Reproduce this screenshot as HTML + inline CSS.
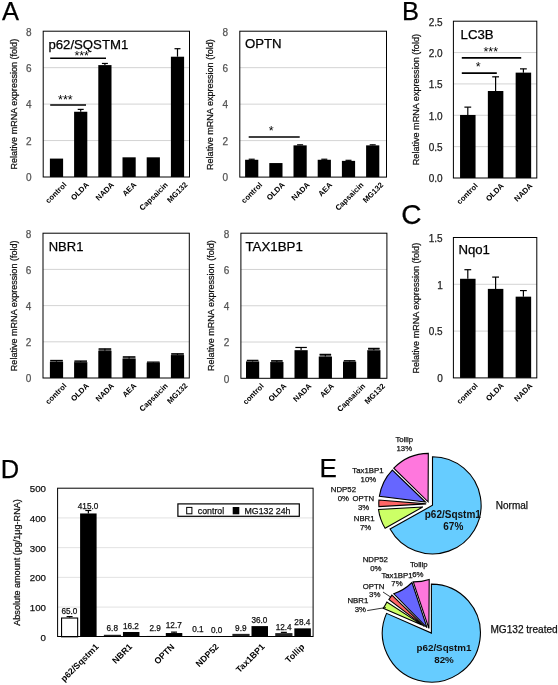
<!DOCTYPE html>
<html><head><meta charset="utf-8"><title>Figure</title>
<style>html,body{margin:0;padding:0;background:#fff}svg{display:block}</style></head>
<body>
<svg width="558" height="685" viewBox="0 0 558 685" font-family='&quot;Liberation Sans&quot;, Arial, Helvetica, sans-serif'>
<rect width="558" height="685" fill="#fff"/>
<text x="1.90" y="20.30" font-size="25.5" text-anchor="start" fill="#000" stroke="#000" stroke-width="0.25">A</text>
<text x="402.00" y="20.30" font-size="25.5" text-anchor="start" fill="#000" stroke="#000" stroke-width="0.25">B</text>
<text x="401.20" y="223.90" font-size="28" text-anchor="start" fill="#000" stroke="#000" stroke-width="0.25">C</text>
<text x="0.80" y="477.50" font-size="25.5" text-anchor="start" fill="#000" stroke="#000" stroke-width="0.25">D</text>
<text x="319.60" y="476.90" font-size="26" text-anchor="start" fill="#000" stroke="#000" stroke-width="0.25">E</text>
<line x1="43.20" y1="140.55" x2="189.50" y2="140.55" stroke="#c8c8c8" stroke-width="0.8"/>
<line x1="43.20" y1="104.10" x2="189.50" y2="104.10" stroke="#c8c8c8" stroke-width="0.8"/>
<line x1="43.20" y1="67.65" x2="189.50" y2="67.65" stroke="#c8c8c8" stroke-width="0.8"/>
<rect x="49.90" y="158.59" width="13.20" height="18.41" fill="#000" stroke="none" stroke-width="1"/>
<text x="67.00" y="185.30" font-size="7.7" text-anchor="end" fill="#000" font-weight="bold" transform="rotate(-45 67.00 185.30)">control</text>
<rect x="74.10" y="111.75" width="13.20" height="65.25" fill="#000" stroke="none" stroke-width="1"/>
<line x1="80.70" y1="111.75" x2="80.70" y2="109.39" stroke="#000" stroke-width="1.2"/>
<line x1="77.70" y1="109.39" x2="83.70" y2="109.39" stroke="#000" stroke-width="1.2"/>
<text x="89.40" y="185.30" font-size="7.7" text-anchor="end" fill="#000" font-weight="bold" transform="rotate(-45 89.40 185.30)">OLDA</text>
<rect x="98.30" y="65.10" width="13.20" height="111.90" fill="#000" stroke="none" stroke-width="1"/>
<line x1="104.90" y1="65.10" x2="104.90" y2="63.46" stroke="#000" stroke-width="1.2"/>
<line x1="101.90" y1="63.46" x2="107.90" y2="63.46" stroke="#000" stroke-width="1.2"/>
<text x="114.50" y="185.30" font-size="7.7" text-anchor="end" fill="#000" font-weight="bold" transform="rotate(-45 114.50 185.30)">NADA</text>
<rect x="122.50" y="157.32" width="13.20" height="19.68" fill="#000" stroke="none" stroke-width="1"/>
<text x="136.90" y="185.30" font-size="7.7" text-anchor="end" fill="#000" font-weight="bold" transform="rotate(-45 136.90 185.30)">AEA</text>
<rect x="146.70" y="157.32" width="13.20" height="19.68" fill="#000" stroke="none" stroke-width="1"/>
<text x="168.30" y="185.30" font-size="7.7" text-anchor="end" fill="#000" font-weight="bold" transform="rotate(-45 168.30 185.30)">Capsaicin</text>
<rect x="170.90" y="56.72" width="13.20" height="120.28" fill="#000" stroke="none" stroke-width="1"/>
<line x1="177.50" y1="56.72" x2="177.50" y2="48.70" stroke="#000" stroke-width="1.2"/>
<line x1="174.50" y1="48.70" x2="180.50" y2="48.70" stroke="#000" stroke-width="1.2"/>
<text x="188.00" y="185.30" font-size="7.7" text-anchor="end" fill="#000" font-weight="bold" transform="rotate(-45 188.00 185.30)">MG132</text>
<rect x="43.20" y="31.20" width="146.30" height="145.80" fill="none" stroke="#000" stroke-width="1"/>
<text x="31.50" y="181.30" font-size="10" text-anchor="end" fill="#555" stroke="#555" stroke-width="0.25">0</text>
<text x="31.50" y="144.85" font-size="10" text-anchor="end" fill="#555" stroke="#555" stroke-width="0.25">2</text>
<text x="31.50" y="108.40" font-size="10" text-anchor="end" fill="#555" stroke="#555" stroke-width="0.25">4</text>
<text x="31.50" y="71.95" font-size="10" text-anchor="end" fill="#555" stroke="#555" stroke-width="0.25">6</text>
<text x="31.50" y="35.50" font-size="10" text-anchor="end" fill="#555" stroke="#555" stroke-width="0.25">8</text>
<text x="17.30" y="104.20" font-size="9.05" text-anchor="middle" fill="#111" stroke="#111" stroke-width="0.25" transform="rotate(-90 17.30 104.20)">Relative mRNA expression (fold)</text>
<text x="48.40" y="48.70" font-size="13.2" text-anchor="start" fill="#000" stroke="#000" stroke-width="0.25">p62/SQSTM1</text>
<line x1="50.20" y1="58.20" x2="106.00" y2="58.20" stroke="#000" stroke-width="1.6"/>
<text x="81.70" y="60.30" font-size="12.5" text-anchor="middle" fill="#000">***</text>
<line x1="50.20" y1="105.00" x2="86.00" y2="105.00" stroke="#000" stroke-width="1.6"/>
<text x="65.40" y="103.90" font-size="12.5" text-anchor="middle" fill="#000">***</text>
<line x1="239.80" y1="140.62" x2="386.50" y2="140.62" stroke="#c8c8c8" stroke-width="0.8"/>
<line x1="239.80" y1="104.15" x2="386.50" y2="104.15" stroke="#c8c8c8" stroke-width="0.8"/>
<line x1="239.80" y1="67.67" x2="386.50" y2="67.67" stroke="#c8c8c8" stroke-width="0.8"/>
<rect x="245.10" y="159.77" width="13.20" height="17.33" fill="#000" stroke="none" stroke-width="1"/>
<line x1="251.70" y1="159.77" x2="251.70" y2="159.23" stroke="#000" stroke-width="1.2"/>
<line x1="248.70" y1="159.23" x2="254.70" y2="159.23" stroke="#000" stroke-width="1.2"/>
<text x="262.80" y="185.40" font-size="7.7" text-anchor="end" fill="#000" font-weight="bold" transform="rotate(-45 262.80 185.40)">control</text>
<rect x="269.30" y="163.06" width="13.20" height="14.04" fill="#000" stroke="none" stroke-width="1"/>
<text x="285.20" y="185.40" font-size="7.7" text-anchor="end" fill="#000" font-weight="bold" transform="rotate(-45 285.20 185.40)">OLDA</text>
<rect x="293.50" y="145.37" width="13.20" height="31.73" fill="#000" stroke="none" stroke-width="1"/>
<line x1="300.10" y1="145.37" x2="300.10" y2="144.82" stroke="#000" stroke-width="1.2"/>
<line x1="297.10" y1="144.82" x2="303.10" y2="144.82" stroke="#000" stroke-width="1.2"/>
<text x="310.30" y="185.40" font-size="7.7" text-anchor="end" fill="#000" font-weight="bold" transform="rotate(-45 310.30 185.40)">NADA</text>
<rect x="317.70" y="159.77" width="13.20" height="17.33" fill="#000" stroke="none" stroke-width="1"/>
<line x1="324.30" y1="159.77" x2="324.30" y2="159.23" stroke="#000" stroke-width="1.2"/>
<line x1="321.30" y1="159.23" x2="327.30" y2="159.23" stroke="#000" stroke-width="1.2"/>
<text x="332.70" y="185.40" font-size="7.7" text-anchor="end" fill="#000" font-weight="bold" transform="rotate(-45 332.70 185.40)">AEA</text>
<rect x="341.90" y="160.87" width="13.20" height="16.23" fill="#000" stroke="none" stroke-width="1"/>
<line x1="348.50" y1="160.87" x2="348.50" y2="160.32" stroke="#000" stroke-width="1.2"/>
<line x1="345.50" y1="160.32" x2="351.50" y2="160.32" stroke="#000" stroke-width="1.2"/>
<text x="364.10" y="185.40" font-size="7.7" text-anchor="end" fill="#000" font-weight="bold" transform="rotate(-45 364.10 185.40)">Capsaicin</text>
<rect x="366.10" y="145.37" width="13.20" height="31.73" fill="#000" stroke="none" stroke-width="1"/>
<line x1="372.70" y1="145.37" x2="372.70" y2="144.82" stroke="#000" stroke-width="1.2"/>
<line x1="369.70" y1="144.82" x2="375.70" y2="144.82" stroke="#000" stroke-width="1.2"/>
<text x="383.80" y="185.40" font-size="7.7" text-anchor="end" fill="#000" font-weight="bold" transform="rotate(-45 383.80 185.40)">MG132</text>
<rect x="239.80" y="31.20" width="146.70" height="145.90" fill="none" stroke="#000" stroke-width="1"/>
<text x="228.10" y="181.40" font-size="10" text-anchor="end" fill="#555" stroke="#555" stroke-width="0.25">0</text>
<text x="228.10" y="144.92" font-size="10" text-anchor="end" fill="#555" stroke="#555" stroke-width="0.25">2</text>
<text x="228.10" y="108.45" font-size="10" text-anchor="end" fill="#555" stroke="#555" stroke-width="0.25">4</text>
<text x="228.10" y="71.97" font-size="10" text-anchor="end" fill="#555" stroke="#555" stroke-width="0.25">6</text>
<text x="228.10" y="35.50" font-size="10" text-anchor="end" fill="#555" stroke="#555" stroke-width="0.25">8</text>
<text x="213.40" y="104.60" font-size="9.05" text-anchor="middle" fill="#111" stroke="#111" stroke-width="0.25" transform="rotate(-90 213.40 104.60)">Relative mRNA expression (fold)</text>
<text x="244.90" y="48.10" font-size="13.2" text-anchor="start" fill="#000" stroke="#000" stroke-width="0.25">OPTN</text>
<line x1="248.70" y1="137.00" x2="299.70" y2="137.00" stroke="#000" stroke-width="1.6"/>
<text x="271.10" y="134.60" font-size="12.5" text-anchor="middle" fill="#000">*</text>
<line x1="43.00" y1="341.80" x2="189.30" y2="341.80" stroke="#c8c8c8" stroke-width="0.8"/>
<line x1="43.00" y1="305.60" x2="189.30" y2="305.60" stroke="#c8c8c8" stroke-width="0.8"/>
<line x1="43.00" y1="269.40" x2="189.30" y2="269.40" stroke="#c8c8c8" stroke-width="0.8"/>
<rect x="49.90" y="361.71" width="13.20" height="16.29" fill="#000" stroke="none" stroke-width="1"/>
<rect x="50.20" y="360.44" width="12.60" height="1.47" fill="#555" stroke="none" stroke-width="1"/>
<line x1="56.50" y1="361.71" x2="56.50" y2="360.44" stroke="#000" stroke-width="1.2"/>
<line x1="50.20" y1="360.44" x2="62.80" y2="360.44" stroke="#000" stroke-width="1.2"/>
<text x="67.00" y="386.30" font-size="7.7" text-anchor="end" fill="#000" font-weight="bold" transform="rotate(-45 67.00 386.30)">control</text>
<rect x="74.10" y="362.07" width="13.20" height="15.93" fill="#000" stroke="none" stroke-width="1"/>
<rect x="74.40" y="360.99" width="12.60" height="1.29" fill="#555" stroke="none" stroke-width="1"/>
<line x1="80.70" y1="362.07" x2="80.70" y2="360.99" stroke="#000" stroke-width="1.2"/>
<line x1="74.40" y1="360.99" x2="87.00" y2="360.99" stroke="#000" stroke-width="1.2"/>
<text x="89.40" y="386.30" font-size="7.7" text-anchor="end" fill="#000" font-weight="bold" transform="rotate(-45 89.40 386.30)">OLDA</text>
<rect x="98.30" y="350.85" width="13.20" height="27.15" fill="#000" stroke="none" stroke-width="1"/>
<rect x="98.60" y="348.86" width="12.60" height="2.19" fill="#555" stroke="none" stroke-width="1"/>
<line x1="104.90" y1="350.85" x2="104.90" y2="348.86" stroke="#000" stroke-width="1.2"/>
<line x1="98.60" y1="348.86" x2="111.20" y2="348.86" stroke="#000" stroke-width="1.2"/>
<text x="114.50" y="386.30" font-size="7.7" text-anchor="end" fill="#000" font-weight="bold" transform="rotate(-45 114.50 386.30)">NADA</text>
<rect x="122.50" y="358.63" width="13.20" height="19.37" fill="#000" stroke="none" stroke-width="1"/>
<rect x="122.80" y="356.82" width="12.60" height="2.01" fill="#555" stroke="none" stroke-width="1"/>
<line x1="129.10" y1="358.63" x2="129.10" y2="356.82" stroke="#000" stroke-width="1.2"/>
<line x1="122.80" y1="356.82" x2="135.40" y2="356.82" stroke="#000" stroke-width="1.2"/>
<text x="136.90" y="386.30" font-size="7.7" text-anchor="end" fill="#000" font-weight="bold" transform="rotate(-45 136.90 386.30)">AEA</text>
<rect x="146.70" y="362.62" width="13.20" height="15.38" fill="#000" stroke="none" stroke-width="1"/>
<rect x="147.00" y="362.07" width="12.60" height="0.74" fill="#555" stroke="none" stroke-width="1"/>
<line x1="153.30" y1="362.62" x2="153.30" y2="362.07" stroke="#000" stroke-width="1.2"/>
<line x1="147.00" y1="362.07" x2="159.60" y2="362.07" stroke="#000" stroke-width="1.2"/>
<text x="168.30" y="386.30" font-size="7.7" text-anchor="end" fill="#000" font-weight="bold" transform="rotate(-45 168.30 386.30)">Capsaicin</text>
<rect x="170.90" y="355.01" width="13.20" height="22.99" fill="#000" stroke="none" stroke-width="1"/>
<rect x="171.20" y="353.75" width="12.60" height="1.47" fill="#555" stroke="none" stroke-width="1"/>
<line x1="177.50" y1="355.01" x2="177.50" y2="353.75" stroke="#000" stroke-width="1.2"/>
<line x1="171.20" y1="353.75" x2="183.80" y2="353.75" stroke="#000" stroke-width="1.2"/>
<text x="188.00" y="386.30" font-size="7.7" text-anchor="end" fill="#000" font-weight="bold" transform="rotate(-45 188.00 386.30)">MG132</text>
<rect x="43.00" y="233.20" width="146.30" height="144.80" fill="none" stroke="#000" stroke-width="1"/>
<text x="31.30" y="382.30" font-size="10" text-anchor="end" fill="#555" stroke="#555" stroke-width="0.25">0</text>
<text x="31.30" y="346.10" font-size="10" text-anchor="end" fill="#555" stroke="#555" stroke-width="0.25">2</text>
<text x="31.30" y="309.90" font-size="10" text-anchor="end" fill="#555" stroke="#555" stroke-width="0.25">4</text>
<text x="31.30" y="273.70" font-size="10" text-anchor="end" fill="#555" stroke="#555" stroke-width="0.25">6</text>
<text x="31.30" y="237.50" font-size="10" text-anchor="end" fill="#555" stroke="#555" stroke-width="0.25">8</text>
<text x="17.30" y="305.80" font-size="9.05" text-anchor="middle" fill="#111" stroke="#111" stroke-width="0.25" transform="rotate(-90 17.30 305.80)">Relative mRNA expression (fold)</text>
<text x="48.70" y="250.50" font-size="13.0" text-anchor="start" fill="#000" stroke="#000" stroke-width="0.25">NBR1</text>
<line x1="240.90" y1="342.02" x2="386.90" y2="342.02" stroke="#c8c8c8" stroke-width="0.8"/>
<line x1="240.90" y1="305.75" x2="386.90" y2="305.75" stroke="#c8c8c8" stroke-width="0.8"/>
<line x1="240.90" y1="269.48" x2="386.90" y2="269.48" stroke="#c8c8c8" stroke-width="0.8"/>
<rect x="246.00" y="361.43" width="13.20" height="16.87" fill="#000" stroke="none" stroke-width="1"/>
<rect x="246.85" y="360.34" width="11.50" height="1.29" fill="#555" stroke="none" stroke-width="1"/>
<line x1="252.60" y1="361.43" x2="252.60" y2="360.34" stroke="#000" stroke-width="1.2"/>
<line x1="246.85" y1="360.34" x2="258.35" y2="360.34" stroke="#000" stroke-width="1.2"/>
<text x="264.40" y="386.60" font-size="7.7" text-anchor="end" fill="#000" font-weight="bold" transform="rotate(-45 264.40 386.60)">control</text>
<rect x="270.25" y="361.98" width="13.20" height="16.32" fill="#000" stroke="none" stroke-width="1"/>
<rect x="271.10" y="360.71" width="11.50" height="1.47" fill="#555" stroke="none" stroke-width="1"/>
<line x1="276.85" y1="361.98" x2="276.85" y2="360.71" stroke="#000" stroke-width="1.2"/>
<line x1="271.10" y1="360.71" x2="282.60" y2="360.71" stroke="#000" stroke-width="1.2"/>
<text x="286.85" y="386.60" font-size="7.7" text-anchor="end" fill="#000" font-weight="bold" transform="rotate(-45 286.85 386.60)">OLDA</text>
<rect x="294.50" y="350.19" width="13.20" height="28.11" fill="#000" stroke="none" stroke-width="1"/>
<line x1="301.10" y1="350.19" x2="301.10" y2="347.47" stroke="#000" stroke-width="1.2"/>
<line x1="295.35" y1="347.47" x2="306.85" y2="347.47" stroke="#000" stroke-width="1.2"/>
<text x="312.00" y="386.60" font-size="7.7" text-anchor="end" fill="#000" font-weight="bold" transform="rotate(-45 312.00 386.60)">NADA</text>
<rect x="318.75" y="356.54" width="13.20" height="21.76" fill="#000" stroke="none" stroke-width="1"/>
<rect x="319.60" y="354.36" width="11.50" height="2.38" fill="#555" stroke="none" stroke-width="1"/>
<line x1="325.35" y1="356.54" x2="325.35" y2="354.36" stroke="#000" stroke-width="1.2"/>
<line x1="319.60" y1="354.36" x2="331.10" y2="354.36" stroke="#000" stroke-width="1.2"/>
<text x="334.45" y="386.60" font-size="7.7" text-anchor="end" fill="#000" font-weight="bold" transform="rotate(-45 334.45 386.60)">AEA</text>
<rect x="343.00" y="361.61" width="13.20" height="16.69" fill="#000" stroke="none" stroke-width="1"/>
<rect x="343.85" y="360.71" width="11.50" height="1.11" fill="#555" stroke="none" stroke-width="1"/>
<line x1="349.60" y1="361.61" x2="349.60" y2="360.71" stroke="#000" stroke-width="1.2"/>
<line x1="343.85" y1="360.71" x2="355.35" y2="360.71" stroke="#000" stroke-width="1.2"/>
<text x="365.90" y="386.60" font-size="7.7" text-anchor="end" fill="#000" font-weight="bold" transform="rotate(-45 365.90 386.60)">Capsaicin</text>
<rect x="367.25" y="350.19" width="13.20" height="28.11" fill="#000" stroke="none" stroke-width="1"/>
<rect x="368.10" y="348.37" width="11.50" height="2.01" fill="#555" stroke="none" stroke-width="1"/>
<line x1="373.85" y1="350.19" x2="373.85" y2="348.37" stroke="#000" stroke-width="1.2"/>
<line x1="368.10" y1="348.37" x2="379.60" y2="348.37" stroke="#000" stroke-width="1.2"/>
<text x="385.65" y="386.60" font-size="7.7" text-anchor="end" fill="#000" font-weight="bold" transform="rotate(-45 385.65 386.60)">MG132</text>
<rect x="240.90" y="233.20" width="146.00" height="145.10" fill="none" stroke="#000" stroke-width="1"/>
<text x="229.20" y="382.60" font-size="10" text-anchor="end" fill="#555" stroke="#555" stroke-width="0.25">0</text>
<text x="229.20" y="346.32" font-size="10" text-anchor="end" fill="#555" stroke="#555" stroke-width="0.25">2</text>
<text x="229.20" y="310.05" font-size="10" text-anchor="end" fill="#555" stroke="#555" stroke-width="0.25">4</text>
<text x="229.20" y="273.78" font-size="10" text-anchor="end" fill="#555" stroke="#555" stroke-width="0.25">6</text>
<text x="229.20" y="237.50" font-size="10" text-anchor="end" fill="#555" stroke="#555" stroke-width="0.25">8</text>
<text x="213.90" y="305.60" font-size="9.05" text-anchor="middle" fill="#111" stroke="#111" stroke-width="0.25" transform="rotate(-90 213.90 305.60)">Relative mRNA expression (fold)</text>
<text x="245.40" y="250.80" font-size="13.3" text-anchor="start" fill="#000" stroke="#000" stroke-width="0.25">TAX1BP1</text>
<line x1="453.40" y1="146.64" x2="536.80" y2="146.64" stroke="#c8c8c8" stroke-width="0.8"/>
<line x1="453.40" y1="115.28" x2="536.80" y2="115.28" stroke="#c8c8c8" stroke-width="0.8"/>
<line x1="453.40" y1="83.92" x2="536.80" y2="83.92" stroke="#c8c8c8" stroke-width="0.8"/>
<line x1="453.40" y1="52.56" x2="536.80" y2="52.56" stroke="#c8c8c8" stroke-width="0.8"/>
<rect x="460.05" y="114.97" width="15.50" height="63.03" fill="#000" stroke="none" stroke-width="1"/>
<line x1="467.80" y1="114.97" x2="467.80" y2="107.13" stroke="#000" stroke-width="1.2"/>
<line x1="464.40" y1="107.13" x2="471.20" y2="107.13" stroke="#000" stroke-width="1.2"/>
<text x="478.30" y="186.30" font-size="7.7" text-anchor="end" fill="#000" font-weight="bold" transform="rotate(-45 478.30 186.30)">control</text>
<rect x="487.85" y="91.01" width="15.50" height="86.99" fill="#000" stroke="none" stroke-width="1"/>
<line x1="495.60" y1="91.01" x2="495.60" y2="76.83" stroke="#000" stroke-width="1.2"/>
<line x1="492.20" y1="76.83" x2="499.00" y2="76.83" stroke="#000" stroke-width="1.2"/>
<text x="504.30" y="186.30" font-size="7.7" text-anchor="end" fill="#000" font-weight="bold" transform="rotate(-45 504.30 186.30)">OLDA</text>
<rect x="515.65" y="72.63" width="15.50" height="105.37" fill="#000" stroke="none" stroke-width="1"/>
<line x1="523.40" y1="72.63" x2="523.40" y2="68.87" stroke="#000" stroke-width="1.2"/>
<line x1="520.00" y1="68.87" x2="526.80" y2="68.87" stroke="#000" stroke-width="1.2"/>
<text x="533.00" y="186.30" font-size="7.7" text-anchor="end" fill="#000" font-weight="bold" transform="rotate(-45 533.00 186.30)">NADA</text>
<rect x="453.40" y="21.20" width="83.40" height="156.80" fill="none" stroke="#000" stroke-width="1"/>
<text x="442.70" y="182.30" font-size="10" text-anchor="end" fill="#222" stroke="#222" stroke-width="0.25">0.0</text>
<text x="442.70" y="150.94" font-size="10" text-anchor="end" fill="#222" stroke="#222" stroke-width="0.25">0.5</text>
<text x="442.70" y="119.58" font-size="10" text-anchor="end" fill="#222" stroke="#222" stroke-width="0.25">1.0</text>
<text x="442.70" y="88.22" font-size="10" text-anchor="end" fill="#222" stroke="#222" stroke-width="0.25">1.5</text>
<text x="442.70" y="56.86" font-size="10" text-anchor="end" fill="#222" stroke="#222" stroke-width="0.25">2.0</text>
<text x="442.70" y="25.50" font-size="10" text-anchor="end" fill="#222" stroke="#222" stroke-width="0.25">2.5</text>
<text x="419.40" y="99.60" font-size="9.08" text-anchor="middle" fill="#111" stroke="#111" stroke-width="0.25" transform="rotate(-90 419.40 99.60)">Relative mRNA expression (fold)</text>
<text x="460.60" y="38.60" font-size="13.2" text-anchor="start" fill="#000" stroke="#000" stroke-width="0.25">LC3B</text>
<line x1="461.80" y1="57.90" x2="521.20" y2="57.90" stroke="#000" stroke-width="1.6"/>
<text x="490.80" y="56.40" font-size="12.5" text-anchor="middle" fill="#000">***</text>
<line x1="461.80" y1="73.10" x2="496.80" y2="73.10" stroke="#000" stroke-width="1.6"/>
<text x="478.20" y="70.60" font-size="12.5" text-anchor="middle" fill="#000">*</text>
<line x1="453.40" y1="331.10" x2="536.80" y2="331.10" stroke="#c8c8c8" stroke-width="0.8"/>
<line x1="453.40" y1="284.30" x2="536.80" y2="284.30" stroke="#c8c8c8" stroke-width="0.8"/>
<rect x="460.05" y="278.78" width="15.50" height="99.12" fill="#000" stroke="none" stroke-width="1"/>
<line x1="467.80" y1="278.78" x2="467.80" y2="269.70" stroke="#000" stroke-width="1.2"/>
<line x1="464.40" y1="269.70" x2="471.20" y2="269.70" stroke="#000" stroke-width="1.2"/>
<text x="478.30" y="386.20" font-size="7.7" text-anchor="end" fill="#000" font-weight="bold" transform="rotate(-45 478.30 386.20)">control</text>
<rect x="487.85" y="288.89" width="15.50" height="89.01" fill="#000" stroke="none" stroke-width="1"/>
<line x1="495.60" y1="288.89" x2="495.60" y2="277.09" stroke="#000" stroke-width="1.2"/>
<line x1="492.20" y1="277.09" x2="499.00" y2="277.09" stroke="#000" stroke-width="1.2"/>
<text x="504.30" y="386.20" font-size="7.7" text-anchor="end" fill="#000" font-weight="bold" transform="rotate(-45 504.30 386.20)">OLDA</text>
<rect x="515.65" y="296.66" width="15.50" height="81.24" fill="#000" stroke="none" stroke-width="1"/>
<line x1="523.40" y1="296.66" x2="523.40" y2="290.57" stroke="#000" stroke-width="1.2"/>
<line x1="520.00" y1="290.57" x2="526.80" y2="290.57" stroke="#000" stroke-width="1.2"/>
<text x="533.00" y="386.20" font-size="7.7" text-anchor="end" fill="#000" font-weight="bold" transform="rotate(-45 533.00 386.20)">NADA</text>
<rect x="453.40" y="237.50" width="83.40" height="140.40" fill="none" stroke="#000" stroke-width="1"/>
<text x="442.70" y="382.20" font-size="10" text-anchor="end" fill="#222" stroke="#222" stroke-width="0.25">0</text>
<text x="442.70" y="335.40" font-size="10" text-anchor="end" fill="#222" stroke="#222" stroke-width="0.25">0.5</text>
<text x="442.70" y="288.60" font-size="10" text-anchor="end" fill="#222" stroke="#222" stroke-width="0.25">1</text>
<text x="442.70" y="241.80" font-size="10" text-anchor="end" fill="#222" stroke="#222" stroke-width="0.25">1.5</text>
<text x="419.40" y="308.20" font-size="9.05" text-anchor="middle" fill="#111" stroke="#111" stroke-width="0.25" transform="rotate(-90 419.40 308.20)">Relative mRNA expression (fold)</text>
<text x="458.40" y="253.80" font-size="13.2" text-anchor="start" fill="#000" stroke="#000" stroke-width="0.25">Nqo1</text>
<line x1="57.60" y1="607.08" x2="313.10" y2="607.08" stroke="#dadada" stroke-width="0.8"/>
<line x1="57.60" y1="577.36" x2="313.10" y2="577.36" stroke="#dadada" stroke-width="0.8"/>
<line x1="57.60" y1="547.64" x2="313.10" y2="547.64" stroke="#dadada" stroke-width="0.8"/>
<line x1="57.60" y1="517.92" x2="313.10" y2="517.92" stroke="#dadada" stroke-width="0.8"/>
<rect x="61.55" y="618.03" width="16.10" height="18.77" fill="#fff" stroke="#000" stroke-width="1.1"/>
<rect x="80.10" y="513.46" width="16.50" height="123.34" fill="#000" stroke="none" stroke-width="1"/>
<line x1="69.60" y1="617.48" x2="69.60" y2="616.59" stroke="#000" stroke-width="1.2"/>
<line x1="66.60" y1="616.59" x2="72.60" y2="616.59" stroke="#000" stroke-width="1.2"/>
<line x1="88.35" y1="513.46" x2="88.35" y2="510.49" stroke="#000" stroke-width="1.2"/>
<line x1="85.35" y1="510.49" x2="91.35" y2="510.49" stroke="#000" stroke-width="1.2"/>
<text x="69.40" y="613.70" font-size="8.2" text-anchor="middle" fill="#111" stroke="#111" stroke-width="0.25">65.0</text>
<text x="88.05" y="509.10" font-size="8.2" text-anchor="middle" fill="#111" stroke="#111" stroke-width="0.25">415.0</text>
<text x="99.29" y="647.40" font-size="8.8" text-anchor="end" fill="#000" font-weight="bold" transform="rotate(-45 99.29 647.40)">p62/Sqstm1</text>
<rect x="103.85" y="634.78" width="17.20" height="2.02" fill="#222" stroke="none" stroke-width="1"/>
<rect x="122.95" y="631.99" width="16.50" height="4.81" fill="#000" stroke="none" stroke-width="1"/>
<text x="112.25" y="631.20" font-size="8.2" text-anchor="middle" fill="#111" stroke="#111" stroke-width="0.25">6.8</text>
<text x="130.90" y="628.60" font-size="8.2" text-anchor="middle" fill="#111" stroke="#111" stroke-width="0.25">16.2</text>
<text x="132.67" y="647.40" font-size="8.8" text-anchor="end" fill="#000" font-weight="bold" transform="rotate(-45 132.67 647.40)">NBR1</text>
<rect x="146.70" y="635.94" width="17.20" height="0.86" fill="#222" stroke="none" stroke-width="1"/>
<rect x="165.80" y="633.03" width="16.50" height="3.77" fill="#000" stroke="none" stroke-width="1"/>
<line x1="174.05" y1="633.03" x2="174.05" y2="632.13" stroke="#000" stroke-width="1.2"/>
<line x1="171.05" y1="632.13" x2="177.05" y2="632.13" stroke="#000" stroke-width="1.2"/>
<text x="155.10" y="631.20" font-size="8.2" text-anchor="middle" fill="#111" stroke="#111" stroke-width="0.25">2.9</text>
<text x="173.75" y="628.20" font-size="8.2" text-anchor="middle" fill="#111" stroke="#111" stroke-width="0.25">12.7</text>
<text x="174.96" y="647.40" font-size="8.8" text-anchor="end" fill="#000" font-weight="bold" transform="rotate(-45 174.96 647.40)">OPTN</text>
<text x="197.95" y="632.20" font-size="8.2" text-anchor="middle" fill="#111" stroke="#111" stroke-width="0.25">0.1</text>
<text x="216.60" y="632.80" font-size="8.2" text-anchor="middle" fill="#111" stroke="#111" stroke-width="0.25">0.0</text>
<text x="219.34" y="647.40" font-size="8.8" text-anchor="end" fill="#000" font-weight="bold" transform="rotate(-45 219.34 647.40)">NDP52</text>
<rect x="232.40" y="633.86" width="17.20" height="2.94" fill="#222" stroke="none" stroke-width="1"/>
<rect x="251.50" y="626.10" width="16.50" height="10.70" fill="#000" stroke="none" stroke-width="1"/>
<text x="240.80" y="631.20" font-size="8.2" text-anchor="middle" fill="#111" stroke="#111" stroke-width="0.25">9.9</text>
<text x="259.45" y="622.70" font-size="8.2" text-anchor="middle" fill="#111" stroke="#111" stroke-width="0.25">36.0</text>
<text x="265.32" y="647.40" font-size="8.8" text-anchor="end" fill="#000" font-weight="bold" transform="rotate(-45 265.32 647.40)">Tax1BP1</text>
<rect x="275.25" y="633.11" width="17.20" height="3.69" fill="#222" stroke="none" stroke-width="1"/>
<rect x="294.35" y="628.36" width="16.50" height="8.44" fill="#000" stroke="none" stroke-width="1"/>
<line x1="283.85" y1="633.11" x2="283.85" y2="632.37" stroke="#000" stroke-width="1.2"/>
<line x1="280.85" y1="632.37" x2="286.85" y2="632.37" stroke="#000" stroke-width="1.2"/>
<text x="283.65" y="629.60" font-size="8.2" text-anchor="middle" fill="#111" stroke="#111" stroke-width="0.25">12.4</text>
<text x="302.30" y="624.70" font-size="8.2" text-anchor="middle" fill="#111" stroke="#111" stroke-width="0.25">28.4</text>
<text x="305.01" y="647.40" font-size="8.8" text-anchor="end" fill="#000" font-weight="bold" transform="rotate(-45 305.01 647.40)">Tollip</text>
<rect x="57.60" y="488.20" width="255.50" height="148.30" fill="none" stroke="#000" stroke-width="1"/>
<text x="46.00" y="640.80" font-size="9.7" text-anchor="end" fill="#111" stroke="#111" stroke-width="0.25">0</text>
<text x="46.00" y="611.08" font-size="9.7" text-anchor="end" fill="#111" stroke="#111" stroke-width="0.25">100</text>
<text x="46.00" y="581.36" font-size="9.7" text-anchor="end" fill="#111" stroke="#111" stroke-width="0.25">200</text>
<text x="46.00" y="551.64" font-size="9.7" text-anchor="end" fill="#111" stroke="#111" stroke-width="0.25">300</text>
<text x="46.00" y="521.92" font-size="9.7" text-anchor="end" fill="#111" stroke="#111" stroke-width="0.25">400</text>
<text x="46.00" y="492.20" font-size="9.7" text-anchor="end" fill="#111" stroke="#111" stroke-width="0.25">500</text>
<text x="19.60" y="562.50" font-size="9.05" text-anchor="middle" fill="#111" stroke="#111" stroke-width="0.25" transform="rotate(-90 19.60 562.50)">Absolute amount (pg/1μg-RNA)</text>
<rect x="177.90" y="503.90" width="121.40" height="12.40" fill="#fff" stroke="#000" stroke-width="1.2"/>
<rect x="186.70" y="507.40" width="5.20" height="6.40" fill="#fff" stroke="#000" stroke-width="1"/>
<text x="197.80" y="514.30" font-size="8.8" text-anchor="start" fill="#111" stroke="#111" stroke-width="0.25">control</text>
<rect x="232.70" y="507.00" width="6.60" height="7.30" fill="#000" stroke="none" stroke-width="1"/>
<text x="244.50" y="514.30" font-size="8.8" text-anchor="start" fill="#111" stroke="#111" stroke-width="0.25">MG132 24h</text>
<path d="M432.50,505.30 L432.50,456.70 A48.6,48.6 0 1 1 390.06,528.98 Z" fill="#66ccff" stroke="#000" stroke-width="1.1" stroke-linejoin="miter"/>
<path d="M422.70,507.00 L378.50,509.50 A48.6,48.6 0 0 0 385.10,528.30 Z" fill="#ccff66" stroke="#000" stroke-width="1.1" stroke-linejoin="miter"/>
<path d="M426.20,503.90 L378.90,500.00 A48.6,48.6 0 0 0 378.90,506.60 Z" fill="#ff6666" stroke="#000" stroke-width="1.1" stroke-linejoin="miter"/>
<path d="M425.40,502.00 L392.30,470.10 A48.6,48.6 0 0 0 379.40,496.20 Z" fill="#6666ff" stroke="#000" stroke-width="1.1" stroke-linejoin="miter"/>
<path d="M428.10,501.80 L428.30,453.40 A48.6,48.6 0 0 0 393.80,468.20 Z" fill="#ff77dd" stroke="#000" stroke-width="1.1" stroke-linejoin="miter"/>
<path d="M431.40,633.10 L431.40,584.10 A49.0,49.0 0 1 1 386.55,613.36 Z" fill="#66ccff" stroke="#000" stroke-width="1.1" stroke-linejoin="miter"/>
<path d="M421.90,624.90 L383.20,608.30 A49.3,49.3 0 0 0 386.90,602.00 Z" fill="#ccff66" stroke="#000" stroke-width="1.1" stroke-linejoin="miter"/>
<path d="M424.50,626.60 L388.80,599.50 A49.3,49.3 0 0 0 391.90,595.10 Z" fill="#ff6666" stroke="#000" stroke-width="1.1" stroke-linejoin="miter"/>
<path d="M427.00,627.60 L393.80,593.80 A49.3,49.3 0 0 0 412.00,582.50 Z" fill="#6666ff" stroke="#000" stroke-width="1.1" stroke-linejoin="miter"/>
<path d="M428.90,628.40 L413.30,581.90 A49.3,49.3 0 0 0 429.20,579.40 Z" fill="#ff77dd" stroke="#000" stroke-width="1.1" stroke-linejoin="miter"/>
<text x="452.80" y="518.10" font-size="10" text-anchor="middle" fill="#111" font-weight="bold">p62/Sqstm1</text>
<text x="453.30" y="530.00" font-size="10" text-anchor="middle" fill="#111" font-weight="bold">67%</text>
<text x="404.30" y="441.60" font-size="7.8" text-anchor="middle" fill="#111" stroke="#111" stroke-width="0.25">Tollip</text>
<text x="404.30" y="450.80" font-size="7.8" text-anchor="middle" fill="#111" stroke="#111" stroke-width="0.25">13%</text>
<text x="367.90" y="472.60" font-size="7.8" text-anchor="middle" fill="#111" stroke="#111" stroke-width="0.25">Tax1BP1</text>
<text x="368.40" y="481.70" font-size="7.8" text-anchor="middle" fill="#111" stroke="#111" stroke-width="0.25">10%</text>
<text x="343.40" y="491.60" font-size="7.8" text-anchor="middle" fill="#111" stroke="#111" stroke-width="0.25">NDP52</text>
<text x="343.30" y="501.20" font-size="7.8" text-anchor="middle" fill="#111" stroke="#111" stroke-width="0.25">0%</text>
<text x="374.20" y="501.00" font-size="7.8" text-anchor="end" fill="#111" stroke="#111" stroke-width="0.25">OPTN</text>
<text x="369.30" y="509.60" font-size="7.8" text-anchor="end" fill="#111" stroke="#111" stroke-width="0.25">3%</text>
<text x="374.60" y="520.60" font-size="7.8" text-anchor="end" fill="#111" stroke="#111" stroke-width="0.25">NBR1</text>
<text x="371.30" y="530.20" font-size="7.8" text-anchor="end" fill="#111" stroke="#111" stroke-width="0.25">7%</text>
<text x="444.00" y="650.80" font-size="9.8" text-anchor="middle" fill="#111" font-weight="bold">p62/Sqstm1</text>
<text x="444.00" y="663.30" font-size="9.8" text-anchor="middle" fill="#111" font-weight="bold">82%</text>
<text x="418.80" y="567.00" font-size="7.8" text-anchor="middle" fill="#111" stroke="#111" stroke-width="0.25">Tollip</text>
<text x="417.80" y="577.30" font-size="7.8" text-anchor="middle" fill="#111" stroke="#111" stroke-width="0.25">6%</text>
<text x="397.00" y="577.50" font-size="7.8" text-anchor="middle" fill="#111" stroke="#111" stroke-width="0.25">Tax1BP1</text>
<text x="397.00" y="586.20" font-size="7.8" text-anchor="middle" fill="#111" stroke="#111" stroke-width="0.25">7%</text>
<text x="375.30" y="561.80" font-size="7.8" text-anchor="middle" fill="#111" stroke="#111" stroke-width="0.25">NDP52</text>
<text x="375.90" y="570.50" font-size="7.8" text-anchor="middle" fill="#111" stroke="#111" stroke-width="0.25">0%</text>
<text x="373.60" y="588.70" font-size="7.8" text-anchor="middle" fill="#111" stroke="#111" stroke-width="0.25">OPTN</text>
<text x="374.70" y="597.20" font-size="7.8" text-anchor="middle" fill="#111" stroke="#111" stroke-width="0.25">3%</text>
<text x="357.90" y="602.50" font-size="7.8" text-anchor="middle" fill="#111" stroke="#111" stroke-width="0.25">NBR1</text>
<text x="360.30" y="611.60" font-size="7.8" text-anchor="middle" fill="#111" stroke="#111" stroke-width="0.25">3%</text>
<line x1="367.20" y1="610.60" x2="385.90" y2="607.50" stroke="#000" stroke-width="0.8"/>
<line x1="383.00" y1="592.00" x2="391.00" y2="597.30" stroke="#000" stroke-width="0.8"/>
<text x="495.80" y="508.60" font-size="10" text-anchor="start" fill="#111" stroke="#111" stroke-width="0.25">Normal</text>
<text x="490.40" y="633.30" font-size="10.1" text-anchor="start" fill="#111" stroke="#111" stroke-width="0.25">MG132 treated</text>
</svg>
</body></html>
